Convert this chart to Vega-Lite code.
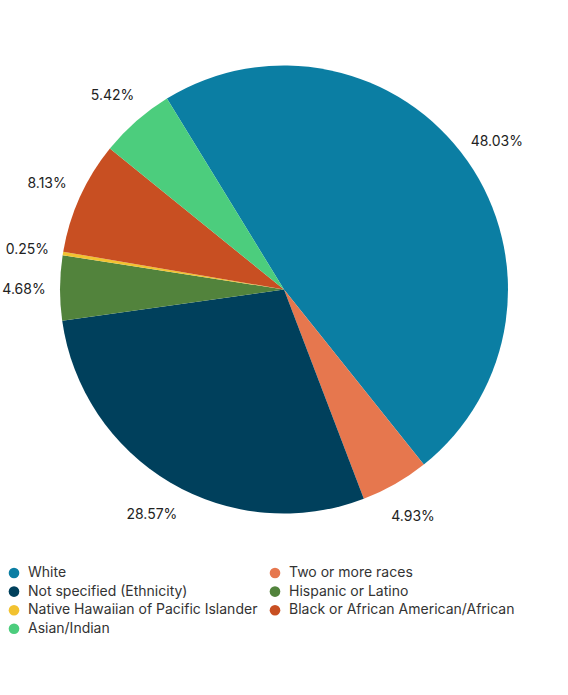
{
  "$schema": "https://vega.github.io/schema/vega-lite/v6.json",
  "description": "Share of respondents by ethnicity",
  "width": 568,
  "height": 579,
  "padding": {"left": 0, "top": 0, "right": 0, "bottom": 116},
  "autosize": "none",
  "background": "white",
  "config": {
    "view": {"stroke": null},
    "font": "Inter"
  },
  "data": {
    "values": [
      {"group": "White", "share": 0.4803, "idx": 1},
      {"group": "Two or more races", "share": 0.0493, "idx": 2},
      {"group": "Not specified (Ethnicity)", "share": 0.2857, "idx": 3},
      {"group": "Hispanic or Latino", "share": 0.0468, "idx": 4},
      {"group": "Native Hawaiian of Pacific Islander", "share": 0.0025, "idx": 5},
      {"group": "Black or African American/African", "share": 0.0813, "idx": 6},
      {"group": "Asian/Indian", "share": 0.0542, "idx": 7}
    ]
  },
  "encoding": {
    "theta": {
      "field": "share",
      "type": "quantitative",
      "stack": true,
      "scale": {"domain": [0, 1.0001], "range": [-0.55, 5.7332]}
    },
    "order": {"field": "idx", "type": "quantitative"}
  },
  "layer": [
    {
      "mark": {"type": "arc", "radius": 224},
      "encoding": {
        "color": {
          "field": "group",
          "type": "nominal",
          "scale": {
            "domain": ["White", "Two or more races", "Not specified (Ethnicity)", "Hispanic or Latino", "Native Hawaiian of Pacific Islander", "Black or African American/African", "Asian/Indian"],
            "range": ["#0b7ea3", "#e6774e", "#00405c", "#52833c", "#f2c230", "#c84f22", "#4ccd7d"]
          },
          "legend": {
            "orient": "none",
            "legendX": 7,
            "legendY": 566,
            "direction": "horizontal",
            "columns": 2,
            "title": null,
            "symbolType": "circle",
            "symbolSize": 113,
            "symbolStrokeWidth": 0,
            "labelFont": "Inter",
            "labelFontSize": 14,
            "labelColor": "#333333",
            "labelOffset": 7,
            "labelLimit": 400,
            "rowPadding": 4.6,
            "columnPadding": 10
          }
        }
      }
    },
    {
      "mark": {
        "type": "text",
        "radius": 260,
        "font": "Inter",
        "fontSize": 14,
        "color": "#222222",
        "align": "center",
        "baseline": "middle",
        "dy": 2
      },
      "encoding": {
        "text": {"field": "share", "type": "quantitative", "format": ".2%"}
      }
    }
  ]
}
